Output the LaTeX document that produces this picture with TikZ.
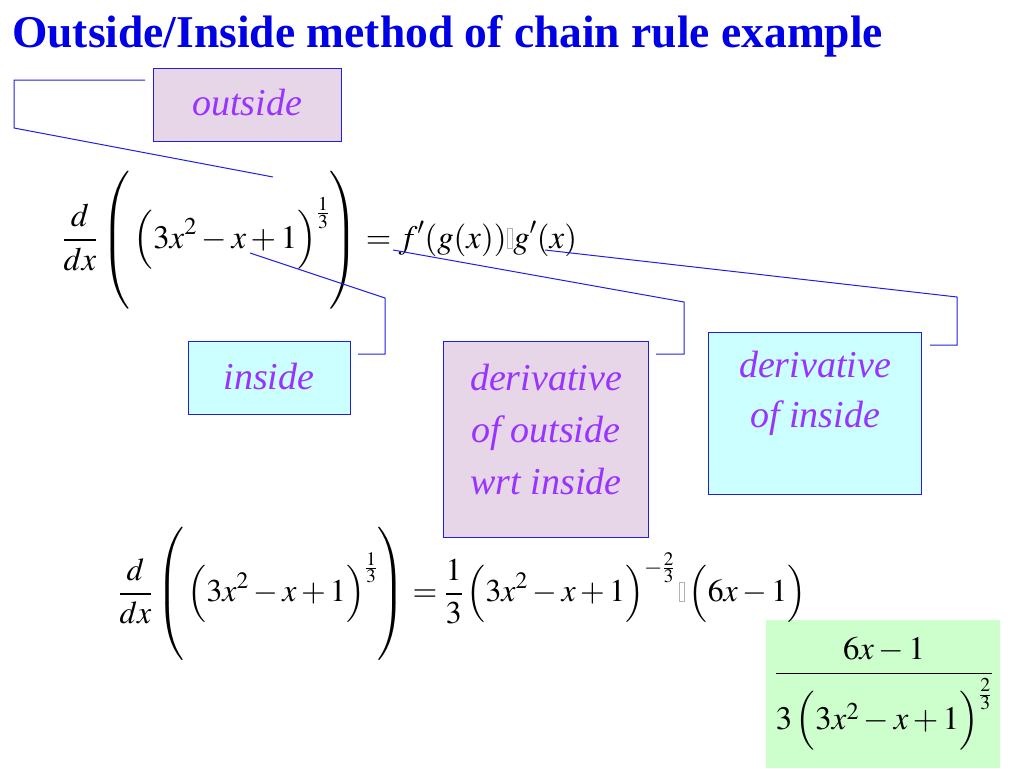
\documentclass[tikz,border=0pt]{standalone}
\usepackage{mathptmx}
\usepackage{fontspec}
\setmainfont{Liberation Serif}
\begin{document}
\definecolor{tblue}{RGB}{0,0,230}
\definecolor{lblue}{RGB}{30,30,230}
\definecolor{purp}{RGB}{153,51,255}
\definecolor{pinkf}{RGB}{230,214,232}
\definecolor{cyanf}{RGB}{204,255,255}
\definecolor{greenf}{RGB}{204,255,204}
\newcommand{\mbx}{\mathord{\tikz[baseline=0pt]\draw[gray!60,line width=0.8pt](0,0) rectangle (5pt,17pt);}}
\newcommand{\tall}{\rule[-42pt]{0pt}{104pt}}
\newcommand{\med}{\rule[-10pt]{0pt}{36pt}}
\begin{tikzpicture}[x=1pt,y=-1pt,
  box/.style={draw=lblue,line width=1pt,inner sep=0pt,font=\fontsize{38}{42}\selectfont\itshape,text=purp,align=center},
  call/.style={draw=lblue,line width=1pt},
  eq/.style={inner sep=0pt,font=\fontsize{28}{32}\selectfont,scale=1.17,transform shape}]
\useasboundingbox (0,0) rectangle (1024,768);
\node[anchor=base west,text=tblue,font=\fontsize{45.5}{48}\selectfont\bfseries,inner sep=0pt] (title) at (12,48) {Outside/Inside method of chain rule example};
% boxes
\fill[pinkf] (153,68) rectangle (341,141);
\draw[lblue,line width=1pt] (153,68) rectangle (341,141);
\node[box,draw=none] (outs) at (247,103) {outside};
\fill[cyanf] (188,341) rectangle (350,414);
\draw[lblue,line width=1pt] (188,341) rectangle (350,414);
\node[box,draw=none] (ins) at (269,377) {inside};
\fill[pinkf] (443,341) rectangle (648,537);
\draw[lblue,line width=1pt] (443,341) rectangle (648,537);
\node[box,draw=none,font=\fontsize{38}{52}\selectfont\itshape] (dout) at (546,430) {derivative\\of outside\\wrt inside};
\fill[cyanf] (708,332) rectangle (921,494);
\draw[lblue,line width=1pt] (708,332) rectangle (921,494);
\node[box,draw=none,font=\fontsize{38}{50}\selectfont\itshape] (din) at (815,393) {derivative\\of inside};
\fill[greenf] (766,620) rectangle (1000,768);
% equations
\node[eq,anchor=west] (eq1) at (62,240) {$\displaystyle \frac{d}{dx}\left(\tall\left(\med 3x^2-x+1\right)^{\frac{1}{3}}\right)=f'(g(x))\mbx g'(x)$};
\node[eq,anchor=west,scale=0.97] (eq2) at (118,594) {$\displaystyle \frac{d}{dx}\left(\tall\left(\med 3x^2-x+1\right)^{\frac{1}{3}}\right)=\frac{1}{3}\left(\med 3x^2-x+1\right)^{-\frac{2}{3}}\mbx\left(\med 6x-1\right)$};
\node[eq] (res) at (884,694) {$\displaystyle \frac{6x-1}{3\left(\med 3x^2-x+1\right)^{\frac{2}{3}}}$};
% callouts
\coordinate (c1) at (273,177);
\coordinate (c2) at (250,253);
\coordinate (c3) at (393,250);
\coordinate (c4) at (545,250);
\draw[call] (145,80) -- (14,80) -- (14,128) -- (c1);
\draw[call] (c2) -- (385,298) -- (385,354) -- (358,354);
\draw[call] (c3) -- (684,302) -- (684,354) -- (656,354);
\draw[call] (c4) -- (957,297) -- (957,345) -- (930,345);
\end{tikzpicture}
\end{document}
